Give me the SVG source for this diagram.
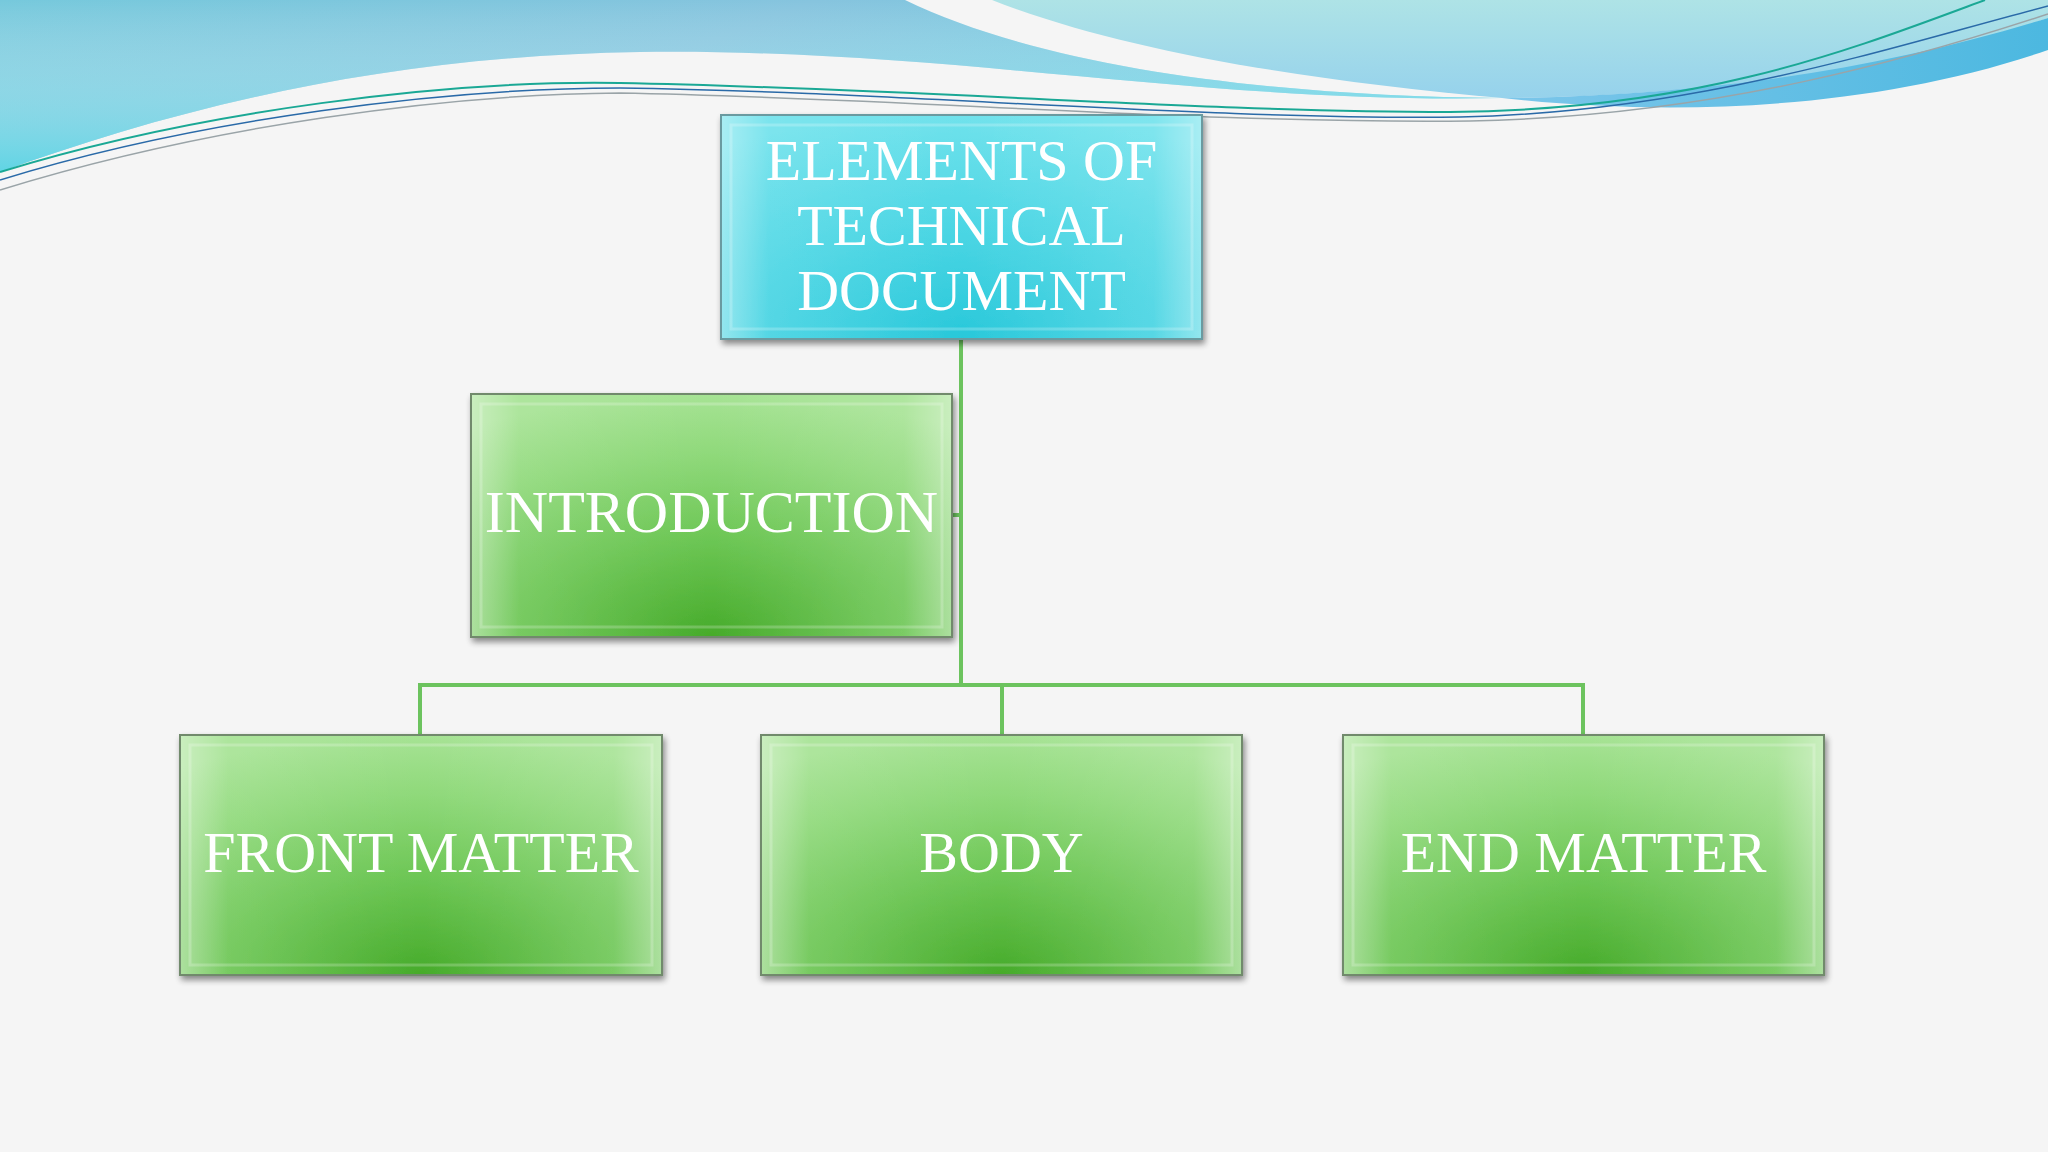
<svg xmlns="http://www.w3.org/2000/svg" width="2048" height="1152" viewBox="0 0 2048 1152">
<defs>
<style>
.lbl{font-family:"Liberation Serif","Times New Roman",serif;fill:#ffffff;text-anchor:middle;}
.conn{stroke:#6cc35e;stroke-width:4;fill:none;}
.edge{fill:none;stroke:#718a6c;stroke-width:2;}
.edgeC{fill:none;stroke:#6a9aa0;stroke-width:2;}
.bevel{fill:none;stroke:#ffffff;stroke-opacity:0.22;stroke-width:3;}
</style>
<linearGradient id="bgBlue" x1="0" y1="0" x2="1" y2="0.3">
<stop offset="0" stop-color="#76c9dc"/>
<stop offset="0.5" stop-color="#86c4de"/>
<stop offset="1" stop-color="#6ccfe2"/>
</linearGradient>
<linearGradient id="bgBlueV" x1="0" y1="0" x2="0" y2="1">
<stop offset="0" stop-color="#ffffff" stop-opacity="0"/>
<stop offset="1" stop-color="#58d8e6" stop-opacity="0.8"/>
</linearGradient>
<linearGradient id="lightCyan" x1="0" y1="0" x2="0" y2="1">
<stop offset="0" stop-color="#aee3e6"/>
<stop offset="1" stop-color="#96d2ec"/>
</linearGradient>
<linearGradient id="band" x1="0" y1="0" x2="1" y2="0">
<stop offset="0" stop-color="#7cc6ea"/>
<stop offset="1" stop-color="#4cb8e0"/>
</linearGradient>
<radialGradient id="greenFill" cx="0.5" cy="1" r="1" fx="0.5" fy="1">
<stop offset="0" stop-color="#46ab2a"/>
<stop offset="0.4" stop-color="#6cc654"/>
<stop offset="0.75" stop-color="#8fd97a"/>
<stop offset="1" stop-color="#a6e394"/>
</radialGradient>
<radialGradient id="cyanFill" cx="0.5" cy="1" r="1" fx="0.5" fy="1">
<stop offset="0" stop-color="#28c8da"/>
<stop offset="0.5" stop-color="#4cd6e4"/>
<stop offset="1" stop-color="#70e2ec"/>
</radialGradient>
<linearGradient id="sheen" x1="0" y1="0" x2="1" y2="0">
<stop offset="0" stop-color="#ffffff" stop-opacity="0.4"/>
<stop offset="0.1" stop-color="#ffffff" stop-opacity="0.08"/>
<stop offset="0.5" stop-color="#ffffff" stop-opacity="0"/>
<stop offset="0.9" stop-color="#ffffff" stop-opacity="0.1"/>
<stop offset="1" stop-color="#ffffff" stop-opacity="0.4"/>
</linearGradient>
<filter id="shadow" x="-5%" y="-5%" width="115%" height="120%">
<feGaussianBlur in="SourceAlpha" stdDeviation="3"/>
<feOffset dx="2" dy="4" result="b"/>
<feComponentTransfer><feFuncA type="linear" slope="0.45"/></feComponentTransfer>
<feMerge><feMergeNode/><feMergeNode in="SourceGraphic"/></feMerge>
</filter>
</defs>

<rect x="0" y="0" width="2048" height="1152" fill="#f5f5f5"/>

<g id="header-wave">
<path d="M0,0 H905 C1050,70 1280,96 1502,98 C1200,104 950,48 640,52 C380,56 170,110 0,172 Z" fill="url(#bgBlue)"/>
<path d="M0,0 H905 C1050,70 1280,96 1502,98 C1200,104 950,48 640,52 C380,56 170,110 0,172 Z" fill="url(#bgBlueV)"/>
<path d="M992,0 H2048 V18 C1900,70 1700,96 1502,98 C1300,80 1120,50 992,0 Z" fill="url(#lightCyan)"/>
<path d="M1502,98 C1700,96 1880,70 2048,18 V50 C1880,108 1680,118 1502,98 Z" fill="url(#band)"/>
<path d="M0,172 C200,110 450,80 620,83 C900,88 1200,112 1450,112 C1700,110 1850,50 1985,0" fill="none" stroke="#1aa895" stroke-width="2"/>
<path d="M0,180 C200,118 450,88 620,88 C900,92 1200,120 1460,117 C1700,112 1900,44 2048,6" fill="none" stroke="#2a6aa8" stroke-width="1.5"/>
<path d="M0,190 C210,125 450,94 620,93 C900,98 1200,124 1470,121 C1720,116 1920,56 2048,14" fill="none" stroke="#9aa4a8" stroke-width="1.5"/>
</g>

<g id="connectors">
<line class="conn" x1="961" y1="339" x2="961" y2="685"/>
<line class="conn" x1="952" y1="515" x2="961" y2="515"/>
<polyline class="conn" points="420,735 420,685 1583,685 1583,735"/>
<line class="conn" x1="1002" y1="685" x2="1002" y2="735"/>
</g>

<g id="node-root" filter="url(#shadow)">
<rect x="721" y="115" width="481" height="224" fill="url(#cyanFill)"/>
<rect x="721" y="115" width="481" height="224" fill="url(#sheen)"/>
<rect class="bevel" x="731" y="125" width="461" height="204"/>
<rect class="edgeC" x="721" y="115" width="481" height="224"/>
<text class="lbl" font-size="58" x="961.5" y="180">ELEMENTS OF</text>
<text class="lbl" font-size="58" x="961.5" y="245">TECHNICAL</text>
<text class="lbl" font-size="58" x="961.5" y="310">DOCUMENT</text>
</g>

<g id="node-introduction" filter="url(#shadow)">
<rect x="471" y="394" width="481" height="243" fill="url(#greenFill)"/>
<rect x="471" y="394" width="481" height="243" fill="url(#sheen)"/>
<rect class="bevel" x="481" y="404" width="461" height="223"/>
<rect class="edge" x="471" y="394" width="481" height="243"/>
<text class="lbl" font-size="60" x="711.5" y="532">INTRODUCTION</text>
</g>

<g id="node-front-matter" filter="url(#shadow)">
<rect x="180" y="735" width="482" height="240" fill="url(#greenFill)"/>
<rect x="180" y="735" width="482" height="240" fill="url(#sheen)"/>
<rect class="bevel" x="190" y="745" width="462" height="220"/>
<rect class="edge" x="180" y="735" width="482" height="240"/>
<text class="lbl" font-size="58" x="421" y="872">FRONT MATTER</text>
</g>

<g id="node-body" filter="url(#shadow)">
<rect x="761" y="735" width="481" height="240" fill="url(#greenFill)"/>
<rect x="761" y="735" width="481" height="240" fill="url(#sheen)"/>
<rect class="bevel" x="771" y="745" width="461" height="220"/>
<rect class="edge" x="761" y="735" width="481" height="240"/>
<text class="lbl" font-size="58" x="1001.5" y="872">BODY</text>
</g>

<g id="node-end-matter" filter="url(#shadow)">
<rect x="1343" y="735" width="481" height="240" fill="url(#greenFill)"/>
<rect x="1343" y="735" width="481" height="240" fill="url(#sheen)"/>
<rect class="bevel" x="1353" y="745" width="461" height="220"/>
<rect class="edge" x="1343" y="735" width="481" height="240"/>
<text class="lbl" font-size="58" x="1583.5" y="872">END MATTER</text>
</g>
</svg>
